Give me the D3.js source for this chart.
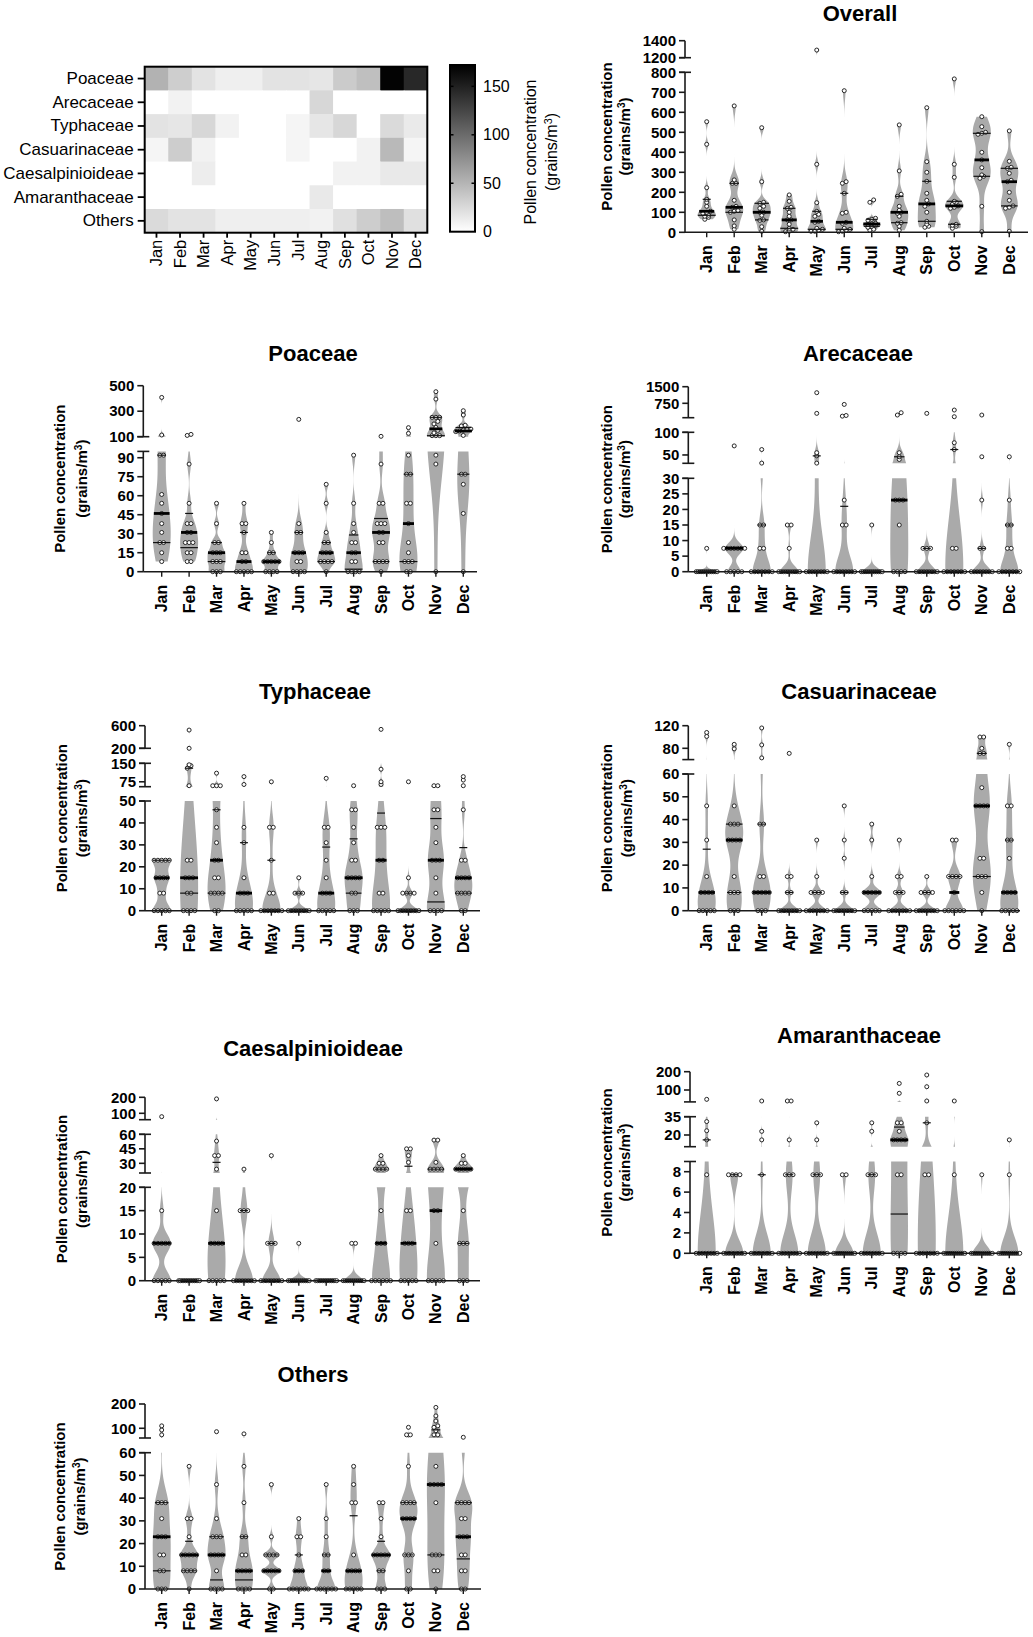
<!DOCTYPE html>
<html><head><meta charset="utf-8">
<script src="https://cdn.jsdelivr.net/npm/d3@7"></script>
<style>body{margin:0;background:#fff}svg{display:block}text{font-family:"Liberation Sans",Arial,Helvetica,sans-serif}</style>
</head><body><svg id="c" width="1033" height="1637"></svg>
<script>
const months = ["Jan","Feb","Mar","Apr","May","Jun","Jul","Aug","Sep","Oct","Nov","Dec"];
const taxa = ["Poaceae","Arecaceae","Typhaceae","Casuarinaceae","Caesalpinioideae","Amaranthaceae","Others"];

// heatmap: mean monthly concentration (grains/m3)
const heatPoaceae = [52,33,19,11,11,19,19,17,35,43,170,145];
const heatArecaceae = [0,9,0,0,0,0,0,27,0,0,0,0];
const heatTyphaceae = [19,17,27,9,0,0,7,17,27,0,25,14];
const heatCasuarinaceae = [7,34,9,0,0,0,7,0,0,9,47,7];
const heatCaesalpinioideae = [0,0,12,0,0,0,0,0,9,9,15,15];
const heatAmaranthaceae = [0,0,0,0,0,0,0,15,0,0,0,0];
const heatOthers = [25,19,19,11,11,11,11,9,21,34,44,21];
const colorbarTicks = [0,50,100,150];

// violin data, one list per month
const overallData = [
 [65,75,80,85,95,100,105,130,150,165,223,440,553],
 [15,32,62,100,105,108,125,130,160,245,245,262,632],
 [5,28,60,62,85,100,100,120,130,145,150,253,523],
 [3,5,15,20,40,62,62,80,100,120,125,155,187],
 [5,5,10,15,20,50,55,80,90,105,148,340,1290],
 [3,5,10,15,20,45,50,95,100,195,245,253,708],
 [10,15,25,30,35,40,42,45,60,65,70,150,162],
 [10,30,45,48,80,95,100,110,130,180,190,307,537],
 [25,30,40,55,100,130,142,160,195,255,300,353,623],
 [20,30,35,40,120,125,132,140,150,155,275,340,767],
 [3,130,270,280,287,323,362,400,490,495,500,528,578],
 [5,120,125,132,160,200,253,260,295,320,325,355,507]];
const overallTicks = [[0,100,200,300,400,500,600,700,800],[1200,1400]];

const poaceaeData = [
 [8,15,23,23,31,38,46,54,61,92,92,113,408],
 [8,8,15,15,23,23,23,31,31,38,38,54,85,110,118],
 [0,0,0,8,8,8,15,15,15,23,23,38,54],
 [0,0,0,0,0,8,8,15,15,31,38,38,54],
 [0,0,0,0,8,8,8,8,8,15,15,23,31],
 [0,0,0,0,8,8,15,15,15,31,31,38,236],
 [0,8,8,8,8,15,15,15,23,23,31,54,69],
 [0,0,0,0,8,8,15,15,23,23,31,38,54,92],
 [0,8,8,8,8,23,23,31,31,38,38,38,54,54,85,103],
 [0,0,8,8,8,15,23,38,54,54,77,77,92,126,171],
 [0,85,92,108,108,108,130,150,173,200,220,252,252,252,395,453],
 [0,46,69,77,77,110,140,145,152,155,160,184,190,270,304]];
const poaceaeTicks = [[0,15,30,45,60,75,90],[100,300,500]];

const arecaceaeData = [
 [0,0,0,0,0,0,0,0,0,0,0,0,7.5],
 [0,0,0,0,0,7.5,7.5,7.5,7.5,7.5,7.5,7.5,70],
 [0,0,0,0,0,0,0,7.5,7.5,15,15,32,62],
 [0,0,0,0,0,0,0,0,0,0,7.5,15,15],
 [0,0,0,0,0,0,0,0,32,48,55,296,1229],
 [0,0,0,0,0,0,0,0,15,15,23,170,200,700],
 [0,0,0,0,0,0,0,0,0,0,0,0,15],
 [0,0,0,0,15,23,23,23,40,46,55,220,325],
 [0,0,0,0,0,0,0,0,0,7.5,7.5,7.5,296],
 [0,0,0,0,0,0,0,7.5,7.5,62,77,145,446],
 [0,0,0,0,0,0,0,0,7.5,7.5,23,46,220],
 [0,0,0,0,0,0,0,7.5,7.5,15,15,23,46]];
const arecaceaeTicks = [[0,5,10,15,20,25,30],[50,100],[750,1500]];

const typhaceaeData = [
 [0,0,0,0,0,8,8,15,15,15,15,23,23,23,23,23],
 [0,0,0,0,8,8,15,15,15,23,23,59,130,140,144,200,523],
 [0,0,8,8,8,8,15,15,23,23,31,38,46,59,59,59,110],
 [0,0,0,0,0,8,8,8,15,31,38,64,96],
 [0,0,0,0,0,0,0,8,8,23,38,38,75],
 [0,0,0,0,0,0,0,0,0,8,8,8,15],
 [0,0,0,0,0,8,8,8,15,23,31,38,38,89],
 [0,0,0,8,8,15,15,15,15,23,23,31,38,46,46,59],
 [0,0,0,0,0,8,8,23,23,38,38,38,64,75,126,535],
 [0,0,0,0,0,0,0,0,0,8,8,8,8,15,75],
 [0,0,0,0,8,15,23,23,23,31,38,46,46,59,59],
 [0,0,8,8,8,8,15,15,15,15,23,23,46,59,82,96]];
const typhaceaeTicks = [[0,10,20,30,40,50],[75,150],[200,600]];

const casuarinaceaeData = [
 [0,0,0,0,0,8,8,8,8,15,31,46,101,108],
 [0,0,0,8,8,8,15,31,31,31,31,38,38,38,46,79,87],
 [0,0,0,8,8,8,8,8,15,15,38,38,63,86,116],
 [0,0,0,0,0,0,0,0,0,8,8,15,15,71],
 [0,0,0,0,0,0,0,8,8,8,8,15,31],
 [0,0,0,0,0,0,0,0,0,8,8,23,31,46],
 [0,0,0,0,0,8,8,8,8,8,15,31,38],
 [0,0,0,0,0,0,0,8,8,8,15,15,31],
 [0,0,0,0,0,0,0,0,8,8,8,8,15],
 [0,0,0,0,0,0,8,15,15,15,15,31,31],
 [0,8,15,15,15,23,23,46,46,46,46,54,71,71,80,100,100],
 [0,0,0,0,0,8,8,8,8,23,31,31,46,46,87]];
const casuarinaceaeTicks = [[0,10,20,30,40,50,60],[80,120]];

const caesalpinioideaeData = [
 [0,0,0,0,0,8,8,8,8,8,15,79],
 [0,0,0,0,0,0,0,0,0,0,0,0,0],
 [0,0,0,0,0,8,8,8,8,15,24,38,38,53,190],
 [0,0,0,0,0,0,0,0,15,15,15,24],
 [0,0,0,0,0,0,0,0,0,8,8,8,38],
 [0,0,0,0,0,0,0,0,0,0,0,0,8],
 [0,0,0,0,0,0,0,0,0,0,0,0,0],
 [0,0,0,0,0,0,0,0,0,0,0,8,8],
 [0,0,0,0,0,0,8,8,8,15,24,24,24,24,30,30,38],
 [0,0,0,0,0,8,8,8,15,15,31,38,45,45],
 [0,0,0,0,0,8,15,15,24,24,24,24,31,54,54],
 [0,0,0,8,8,8,15,24,24,24,24,24,30,30,38]];
const caesalpinioideaeTicks = [[0,5,10,15,20],[30,45,60],[100,200]];

const amaranthaceaeData = [
 [0,0,0,0,0,0,0,0,7.7,16,23.5,31,49],
 [0,0,0,0,0,0,0,0,0,7.7,7.7,7.7,7.7],
 [0,0,0,0,0,0,0,0,0,7.7,16,23,40],
 [0,0,0,0,0,0,0,0,7.7,7.7,7.7,16,40,40],
 [0,0,0,0,0,0,0,0,7.7,7.7,7.7,16,30],
 [0,0,0,0,0,0,0,0,0,0,0,7.7,7.7],
 [0,0,0,0,0,0,0,0,7.7,7.7,7.7,23,30],
 [0,0,0,0,7.7,7.7,16,16,16,16,23,30,30,82,136],
 [0,0,0,0,0,0,0,7.7,7.7,30,40,118,182],
 [0,0,0,0,0,0,0,0,0,0,0,7.7,40],
 [0,0,0,0,0,0,0,0,0,0,0,0,7.7],
 [0,0,0,0,0,0,0,0,0,0,0,7.7,16]];
const amaranthaceaeTicks = [[0,2,4,6,8],[20,35],[100,200]];

const othersData = [
 [0,0,0,8,8,15,15,23,23,23,31,38,38,38,73,93,110],
 [0,8,8,8,8,15,15,15,15,15,23,31,31,54],
 [0,0,0,0,8,15,15,15,15,23,23,23,31,46,86],
 [0,0,0,0,8,8,8,8,15,15,23,23,38,54,77],
 [0,0,8,8,8,8,8,15,15,15,15,23,46],
 [0,0,0,0,0,0,8,8,8,15,23,23,31],
 [0,0,0,0,0,0,8,8,15,15,23,31,46],
 [0,0,0,0,0,8,8,8,8,15,38,38,46,54],
 [0,0,0,8,8,15,15,15,15,15,23,31,38,38],
 [0,0,8,15,15,15,31,31,31,31,38,38,38,38,54,73,73,104],
 [0,8,8,15,15,15,38,46,46,46,46,54,73,73,90,104,110,130,151,186],
 [0,0,8,8,15,15,23,23,23,31,31,38,38,38,38,63]];
const othersTicks = [[0,10,20,30,40,50,60],[100,200]];

// ---------- layout ----------
const INK = "#1a1a1a", VIOLIN = "#aaaaaa", W = 9;
const svg = d3.select("#c");

// ---------- heatmap ----------
const heatRows = [heatPoaceae,heatArecaceae,heatTyphaceae,heatCasuarinaceae,heatCaesalpinioideae,heatAmaranthaceae,heatOthers];
const hm = {x0:144.7, x1:427.3, y0:66.7, y1:232.7};
const hx = d3.scaleBand().domain(months).range([hm.x0, hm.x1]);
const hy = d3.scaleBand().domain(taxa).range([hm.y0, hm.y1]);
const cmax = 172;
const color = d3.scaleLinear().domain([0, cmax]).range(["#ffffff", "#000000"]).clamp(true);
const cells = taxa.flatMap((t,i)=>months.map((m,j)=>({t, m, v:heatRows[i][j]})));
const hg = svg.append("g");
hg.selectAll("rect.cell").data(cells).join("rect").attr("class","cell")
  .attr("x",d=>hx(d.m)).attr("y",d=>hy(d.t))
  .attr("width",hx.bandwidth()+0.6).attr("height",hy.bandwidth()+0.6)
  .attr("fill",d=>color(d.v));
hg.append("rect").attr("x",hm.x0).attr("y",hm.y0).attr("width",hm.x1-hm.x0).attr("height",hm.y1-hm.y0)
  .attr("fill","none").attr("stroke","#000").attr("stroke-width",2);
const hyAxis = hg.append("g").attr("transform",`translate(${hm.x0},0)`).call(d3.axisLeft(hy).tickSize(7).tickPadding(4));
hyAxis.select(".domain").remove();
hyAxis.selectAll("line").attr("stroke","#000").attr("stroke-width",1.8);
hyAxis.selectAll("text").attr("font-size",17).attr("fill","#000").style("font-family",'"Liberation Sans",Arial,sans-serif');
const hxAxis = hg.append("g").attr("transform",`translate(0,${hm.y1})`).call(d3.axisBottom(hx).tickSize(5));
hxAxis.select(".domain").remove();
hxAxis.selectAll("line").attr("stroke","#000").attr("stroke-width",1.8);
hxAxis.selectAll("text").attr("font-size",16.5).attr("fill","#000").style("font-family",'"Liberation Sans",Arial,sans-serif')
  .attr("transform","rotate(-90)").attr("x",-7).attr("y",0).attr("dy","0.35em").attr("text-anchor","end");

// colorbar
const cb = {x:450, w:25, y0:65, y1:231.7};
const cby = d3.scaleLinear().domain([0,cmax]).range([cb.y1, cb.y0]);
const grad = svg.append("defs").append("linearGradient").attr("id","cbg").attr("x1",0).attr("y1",1).attr("x2",0).attr("y2",0);
grad.append("stop").attr("offset","0%").attr("stop-color",color(0));
grad.append("stop").attr("offset","100%").attr("stop-color",color(cmax));
hg.append("rect").attr("x",cb.x).attr("y",cb.y0).attr("width",cb.w).attr("height",cb.y1-cb.y0)
  .attr("fill","url(#cbg)").attr("stroke","#000").attr("stroke-width",2);
colorbarTicks.forEach(t=>{
  const yy = cby(t);
  if (t>0){
    hg.append("line").attr("x1",cb.x).attr("x2",cb.x+3.5).attr("y1",yy).attr("y2",yy).attr("stroke","#000").attr("stroke-width",1.5);
    hg.append("line").attr("x1",cb.x+cb.w-3.5).attr("x2",cb.x+cb.w).attr("y1",yy).attr("y2",yy).attr("stroke","#000").attr("stroke-width",1.5);
  }
  hg.append("text").attr("x",483).attr("y",yy).attr("dy","0.35em").attr("font-size",16).attr("fill","#000").text(t);
});
function rotLabel(g, x, y, size, weight){
  g.append("text").attr("transform",`translate(${x[0]},${y}) rotate(-90)`).attr("text-anchor","middle")
    .attr("dy","0.35em").attr("font-size",size).attr("font-weight",weight).attr("fill","#000").text("Pollen concentration");
  const t2 = g.append("text").attr("transform",`translate(${x[1]},${y}) rotate(-90)`).attr("text-anchor","middle")
    .attr("dy","0.35em").attr("font-size",size).attr("font-weight",weight).attr("fill","#000");
  t2.append("tspan").text("(grains/m");
  t2.append("tspan").attr("dy",-5).attr("font-size",size*0.68).text("3");
  t2.append("tspan").attr("dy",5).text(")");
}
rotLabel(hg, [530, 551.7], 152, 16, "normal");

// ---------- violin panels ----------
const L = {first:161.7, last:463.3}, R = {first:706.7, last:1009.3};
const panels = [
 {title:"Overall", data:overallData, ticks:overallTicks, axisX:685, xs:R, xEnd:1028, tx:860, ty:21, lab:[607,625],
  segs:[{d:[0,800],r:[232.3,72.3]},{d:[1200,1400],r:[57.7,40.7]}]},
 {title:"Poaceae", data:poaceaeData, ticks:poaceaeTicks, axisX:143.3, xs:L, xEnd:477, tx:313, ty:361, lab:[60,81.7],
  segs:[{d:[0,95],r:[571.7,451.4]},{d:[100,500],r:[436.7,385.7]}]},
 {title:"Arecaceae", data:arecaceaeData, ticks:arecaceaeTicks, axisX:688.3, xs:R, xEnd:1020, tx:858, ty:361, lab:[606.7,625],
  segs:[{d:[0,30],r:[571.7,478.3]},{d:[31.6,100],r:[463.3,432.3]},{d:[100,1500],r:[417.7,386.7]}]},
 {title:"Typhaceae", data:typhaceaeData, ticks:typhaceaeTicks, axisX:145, xs:L, xEnd:480, tx:315, ty:699, lab:[61.7,81.7],
  segs:[{d:[0,50],r:[910.7,801]},{d:[55,150],r:[786.7,763.3]},{d:[200,600],r:[748.3,725.7]}]},
 {title:"Casuarinaceae", data:casuarinaceaeData, ticks:casuarinaceaeTicks, axisX:688.3, xs:R, xEnd:1020, tx:859, ty:699, lab:[606.7,626.7],
  segs:[{d:[0,60],r:[910.7,774]},{d:[60,120],r:[759.6,725.7]}]},
 {title:"Caesalpinioideae", data:caesalpinioideaeData, ticks:caesalpinioideaeTicks, axisX:145, xs:L, xEnd:480, tx:313, ty:1056, lab:[61.7,81.7],
  segs:[{d:[0,20],r:[1280.7,1187.3]},{d:[20,60],r:[1173,1134.3]},{d:[60,200],r:[1119.7,1097.3]}]},
 {title:"Amaranthaceae", data:amaranthaceaeData, ticks:amaranthaceaeTicks, axisX:690, xs:R, xEnd:1018, tx:859, ty:1043, lab:[606.7,625],
  segs:[{d:[0,9],r:[1253.3,1161.5]},{d:[10.4,35],r:[1146.7,1116.7]},{d:[35,200],r:[1101.9,1071.7]}]},
 {title:"Others", data:othersData, ticks:othersTicks, axisX:145, xs:L, xEnd:481, tx:313, ty:1382, lab:[60,80],
  segs:[{d:[0,60],r:[1589,1452.7]},{d:[60,200],r:[1438,1404]}]}
];

function bandwidth(s){
  const n = s.length, sd = d3.deviation(s) || 0;
  const iqr = d3.quantileSorted(s,0.75) - d3.quantileSorted(s,0.25);
  let a = Math.min(sd, iqr/1.34);
  if (!(a > 0)) a = sd;
  return 0.55 * a * Math.pow(n, -0.2);
}

function drawPanel(p){
  const g = svg.append("g");
  const sc = p.segs.map(s=>d3.scaleLinear().domain(s.d).range(s.r));
  const y = v => {
    for (let i=0;i<p.segs.length;i++){ if (v <= p.segs[i].d[1]) return sc[i](Math.max(v, p.segs[i].d[0])); }
    return sc[sc.length-1](v);
  };
  const x = d3.scalePoint().domain(months).range([p.xs.first, p.xs.last]);
  const base = p.segs[0].r[0];
  const top = p.segs[p.segs.length-1].r[1];

  months.forEach((m,i)=>{
    const s = p.data[i].slice().sort(d3.ascending);
    const cx = x(m);
    const mn = s[0], mx = s[s.length-1];
    const h = bandwidth(s);
    let wAt = () => W*0.9;
    if (mx > mn && h > 0){
      const dens = v => { let t=0; for (const a of s){ const u=(v-a)/h; t += Math.exp(-0.5*u*u); } return t; };
      let maxD = 0;
      for (let k=0;k<=400;k++) maxD = Math.max(maxD, dens(mn+(mx-mn)*k/400));
      s.forEach(v=>{ maxD = Math.max(maxD, dens(v)); });
      wAt = v => W*dens(v)/maxD;
      p.segs.forEach((sg,si)=>{
        const lo = Math.max(sg.d[0], mn), hi = Math.min(sg.d[1], mx);
        if (hi <= lo) return;
        const ya = sc[si](lo), yb = sc[si](hi);
        const pts = [];
        for (let yy=ya; yy>yb; yy-=0.5) pts.push({y:yy, w:wAt(sc[si].invert(yy))});
        pts.push({y:yb, w:wAt(hi)});
        g.append("path").datum(pts)
          .attr("d", d3.area().y(d=>d.y).x0(d=>cx-d.w).x1(d=>cx+d.w))
          .attr("fill", VIOLIN);
      });
    }
    // points (simple row dodge)
    const pys = s.map(v=>({v, py:y(v)})).sort((a,b)=>b.py-a.py);
    const clusters = [];
    pys.forEach(d=>{
      const c = clusters[clusters.length-1];
      if (c && Math.abs(d.py - c[0].py) <= 2.6) c.push(d); else clusters.push([d]);
    });
    clusters.forEach(c=>{
      const n = c.length, step = n>1 ? Math.min(3.8, 21/(n-1)) : 0;
      c.forEach((d,k)=>{ d.px = cx + (k-(n-1)/2)*step; });
    });
    g.selectAll(null).data(pys).join("circle")
      .attr("cx",d=>d.px).attr("cy",d=>d.py).attr("r",2)
      .attr("fill","#fff").attr("stroke","#262626").attr("stroke-width",1);
    // quartiles and median
    const q1 = d3.quantileSorted(s,0.25), q3 = d3.quantileSorted(s,0.75), md = d3.quantileSorted(s,0.5);
    [q1,q3].forEach(q=>{
      const hw = Math.max(wAt(q), 4);
      g.append("line").attr("x1",cx-hw).attr("x2",cx+hw).attr("y1",y(q)).attr("y2",y(q))
        .attr("stroke","#111").attr("stroke-width",1.2);
    });
    const hw = Math.max(wAt(md), 5);
    g.append("line").attr("x1",cx-hw).attr("x2",cx+hw).attr("y1",y(md)).attr("y2",y(md))
      .attr("stroke","#000").attr("stroke-width",2.8);
  });

  // y axis (broken)
  p.segs.forEach((sg,si)=>{
    g.append("line").attr("x1",p.axisX).attr("x2",p.axisX).attr("y1",sg.r[0]).attr("y2",sg.r[1])
      .attr("stroke",INK).attr("stroke-width",1.6);
    if (si>0) g.append("line").attr("x1",p.axisX-6).attr("x2",p.axisX+6).attr("y1",sg.r[0]).attr("y2",sg.r[0]).attr("stroke",INK).attr("stroke-width",1.6);
    if (si<p.segs.length-1) g.append("line").attr("x1",p.axisX-6).attr("x2",p.axisX+6).attr("y1",sg.r[1]).attr("y2",sg.r[1]).attr("stroke",INK).attr("stroke-width",1.6);
    p.ticks[si].forEach(t=>{
      const yy = sc[si](t);
      g.append("line").attr("x1",p.axisX-6).attr("x2",p.axisX).attr("y1",yy).attr("y2",yy).attr("stroke",INK).attr("stroke-width",1.6);
      g.append("text").attr("x",p.axisX-9).attr("y",yy).attr("dy","0.35em").attr("text-anchor","end")
        .attr("font-size",15).attr("font-weight","bold").attr("fill","#000").text(t);
    });
  });
  // x axis
  g.append("line").attr("x1",p.axisX).attr("x2",p.xEnd).attr("y1",base).attr("y2",base).attr("stroke",INK).attr("stroke-width",1.6);
  months.forEach(m=>{
    g.append("line").attr("x1",x(m)).attr("x2",x(m)).attr("y1",base).attr("y2",base+5).attr("stroke",INK).attr("stroke-width",1.4);
    g.append("text").attr("transform",`translate(${x(m)},${base+13}) rotate(-90)`).attr("text-anchor","end").attr("dy","0.35em")
      .attr("font-size",16).attr("font-weight","bold").attr("fill","#000").text(m);
  });
  // title and y label
  g.append("text").attr("x",p.tx).attr("y",p.ty).attr("text-anchor","middle").attr("font-size",22).attr("font-weight","bold").attr("fill","#000").text(p.title);
  rotLabel(g, p.lab, (base+top)/2, 15, "bold");
}
panels.forEach(drawPanel);
</script></body></html>
